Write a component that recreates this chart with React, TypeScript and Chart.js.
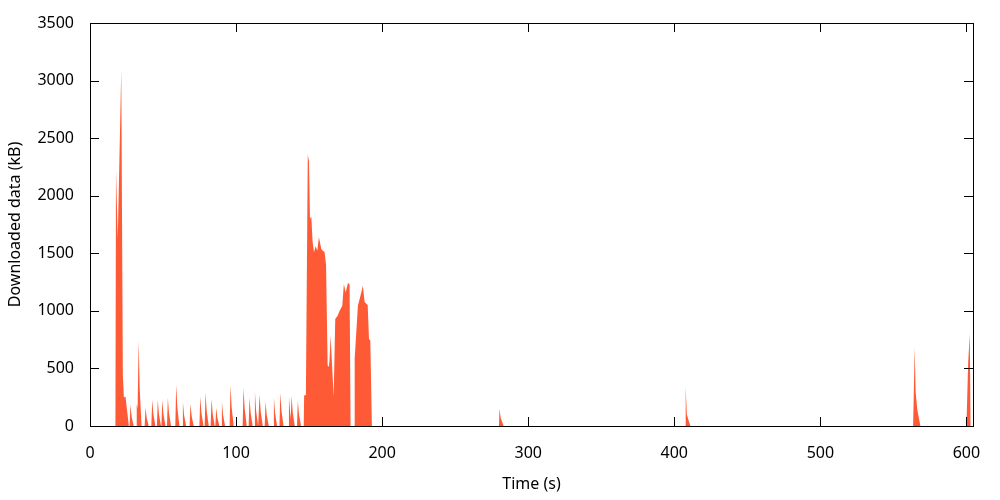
import { useEffect, useRef } from 'react';
import { Chart, registerables } from 'chart.js';

Chart.register(...registerables);

// time stamps (s) and downloaded data (kB)
const timeSec = [
  0, 17.4, 17.8, 19.0, 21.4, 22.5, 23.2, 24.3, 26.6,
  27.1, 27.7, 28.5, 29.9,
  31.6, 32.0, 32.6, 33.3, 34.0, 35.3,
  37.4, 38.0, 38.8, 40.2,
  42.0, 42.6, 43.4, 44.8,
  45.8, 46.4, 47.2, 48.6,
  48.9, 49.5, 50.3, 51.7,
  52.7, 53.3, 54.1, 55.5,
  58.4, 59.0, 59.8, 61.2,
  63.0, 63.6, 64.4, 65.8,
  68.2, 68.8, 69.6, 71.0,
  74.9, 75.5, 76.3, 77.7,
  78.5, 79.1, 79.9, 81.3,
  82.6, 83.2, 84.0, 85.4,
  85.8, 86.4, 87.2, 88.6,
  89.7, 90.3, 91.1, 92.5,
  95.6, 96.2, 97.0, 98.4,
  104.5, 105.1, 105.9, 107.3,
  108.6, 109.2, 110.0, 111.4,
  112.3, 112.9, 113.7, 115.1,
  115.5, 116.1, 116.9, 118.3,
  119.6, 120.2, 121.0, 122.4,
  125.3, 125.9, 126.7, 128.1,
  129.7, 130.3, 131.1, 132.5,
  135.6, 136.2, 137.0, 137.4, 138.0, 138.8, 140.2,
  141.7, 142.3, 143.1, 144.5,
  146.3, 146.6, 147.8, 149.1, 149.9, 150.6, 151.5, 152.4, 153.3, 154.5,
  155.6, 156.7, 158.4, 160.6, 161.6, 162.7, 163.6, 164.1, 164.7, 166.8,
  167.9, 169.5, 170.9, 172.7, 173.8, 175.0, 176.6, 177.7, 178.4,
  180.8, 181.2, 183.4, 185.8, 186.8, 188.0, 189.2, 190.1, 191.0, 191.9, 193.0,
  280.0, 280.3, 281.2, 283.2,
  407.4, 407.8, 408.6, 410.0, 411.1,
  563.5, 564.6, 565.2, 566.4, 568.5,
  600.0, 601.2, 602.3, 602.8, 604.5,
];

const downloadedKB = [
  0, 0, 2230, 1620, 3090, 436, 250, 255, 0,
  0, 185, 83, 0,
  0, 190, 150, 742, 330, 0,
  0, 160, 72, 0,
  0, 228, 103, 0,
  0, 228, 103, 0,
  0, 228, 103, 0,
  0, 245, 110, 0,
  0, 358, 161, 0,
  0, 210, 95, 0,
  0, 193, 87, 0,
  0, 254, 114, 0,
  0, 288, 130, 0,
  0, 236, 106, 0,
  0, 158, 71, 0,
  0, 210, 95, 0,
  0, 352, 158, 0,
  0, 332, 149, 0,
  0, 245, 110, 0,
  0, 300, 135, 0,
  0, 271, 122, 0,
  0, 213, 96, 0,
  0, 250, 113, 0,
  0, 288, 130, 0,
  0, 254, 120, 60, 262, 118, 0,
  0, 222, 100, 0,
  0, 265, 270, 2359, 2300, 1800, 1820, 1600, 1510, 1562,
  1521, 1640, 1536, 1510, 1400, 525, 514, 600, 785, 254,
  930, 958, 1001, 1045, 1233, 1160, 1241, 1230, 0,
  0, 583, 1045, 1163, 1218, 1076, 1062, 1050, 756, 742, 0,
  0, 150, 70, 0,
  0, 338, 100, 40, 0,
  0, 684, 300, 140, 0,
  0, 550, 800, 0, 0,
];

const xTickValues = [0, 100, 200, 300, 400, 500, 600];
const yTickValues = [0, 500, 1000, 1500, 2000, 2500, 3000, 3500];

const FONT = { family: '"Noto Sans", sans-serif', size: 16 };

// gnuplot style frame with inward ticks on all four sides
const frameTicks = {
  id: 'frameTicks',
  afterDraw(chart: any) {
    const { ctx, chartArea, scales } = chart;
    const { left, right, top, bottom } = chartArea;
    const len = 9;
    ctx.save();
    ctx.strokeStyle = '#000';
    ctx.lineWidth = 1;
    ctx.beginPath();
    scales.x.ticks.forEach((t: any) => {
      const px = Math.round(scales.x.getPixelForValue(t.value)) + 0.5;
      ctx.moveTo(px, bottom);
      ctx.lineTo(px, bottom - len);
      ctx.moveTo(px, top);
      ctx.lineTo(px, top + len);
    });
    scales.y.ticks.forEach((t: any) => {
      const py = Math.round(scales.y.getPixelForValue(t.value)) + 0.5;
      ctx.moveTo(left, py);
      ctx.lineTo(left + len, py);
      ctx.moveTo(right, py);
      ctx.lineTo(right - len, py);
    });
    ctx.stroke();
    ctx.strokeRect(Math.round(left) + 0.5, Math.round(top) + 0.5, Math.round(right - left), Math.round(bottom - top));
    ctx.restore();
  },
};

const DownloadChart = () => {
  const chartRef = useRef<HTMLCanvasElement>(null);
  const chartInstance = useRef<Chart>();

  useEffect(() => {
    document.body.style.margin = '0';
    if (!chartRef.current) return;
    const ctx = chartRef.current.getContext('2d');
    if (!ctx) return;

    if (chartInstance.current) {
      chartInstance.current.destroy();
    }

    const points = timeSec.map((t, i) => ({ x: t, y: downloadedKB[i] }));

    chartInstance.current = new Chart(ctx, {
      type: 'line',
      data: {
        datasets: [{
          label: 'Downloaded data',
          data: points,
          fill: 'origin',
          backgroundColor: '#ff5a36',
          borderWidth: 0,
          pointRadius: 0,
          tension: 0,
        }],
      },
      options: {
        animation: false,
        responsive: true,
        maintainAspectRatio: false,
        layout: { padding: { left: 0, right: 27, top: 23, bottom: 0 } },
        plugins: {
          legend: { display: false },
          tooltip: { enabled: false },
        },
        scales: {
          x: {
            type: 'linear',
            min: 0,
            max: 604.5,
            afterBuildTicks: (scale: any) => {
              scale.ticks = xTickValues.map((v) => ({ value: v }));
            },
            afterFit: (scale: any) => { scale.height = 74; },
            grid: { display: false },
            border: { display: false },
            ticks: { color: '#000', font: FONT, padding: 10, maxRotation: 0, callback: (v: any) => String(v) },
            title: { display: true, text: 'Time (s)', color: '#000', font: FONT, padding: { top: 0, bottom: 6 } },
          },
          y: {
            type: 'linear',
            min: 0,
            max: 3500,
            afterBuildTicks: (scale: any) => {
              scale.ticks = yTickValues.map((v) => ({ value: v }));
            },
            afterFit: (scale: any) => { scale.width = 90; },
            grid: { display: false },
            border: { display: false },
            ticks: { color: '#000', font: FONT, padding: 8, callback: (v: any) => String(v) },
            title: { display: true, text: 'Downloaded data (kB)', color: '#000', font: FONT, padding: { top: 6, bottom: 0 } },
          },
        },
      },
      plugins: [frameTicks],
    });

    return () => {
      if (chartInstance.current) {
        chartInstance.current.destroy();
        chartInstance.current = undefined;
      }
    };
  }, []);

  return (
    <div style={{ width: 1000, height: 500, position: 'relative' }}>
      <canvas ref={chartRef} />
    </div>
  );
};

export default function App() {
  return <DownloadChart />;
}
